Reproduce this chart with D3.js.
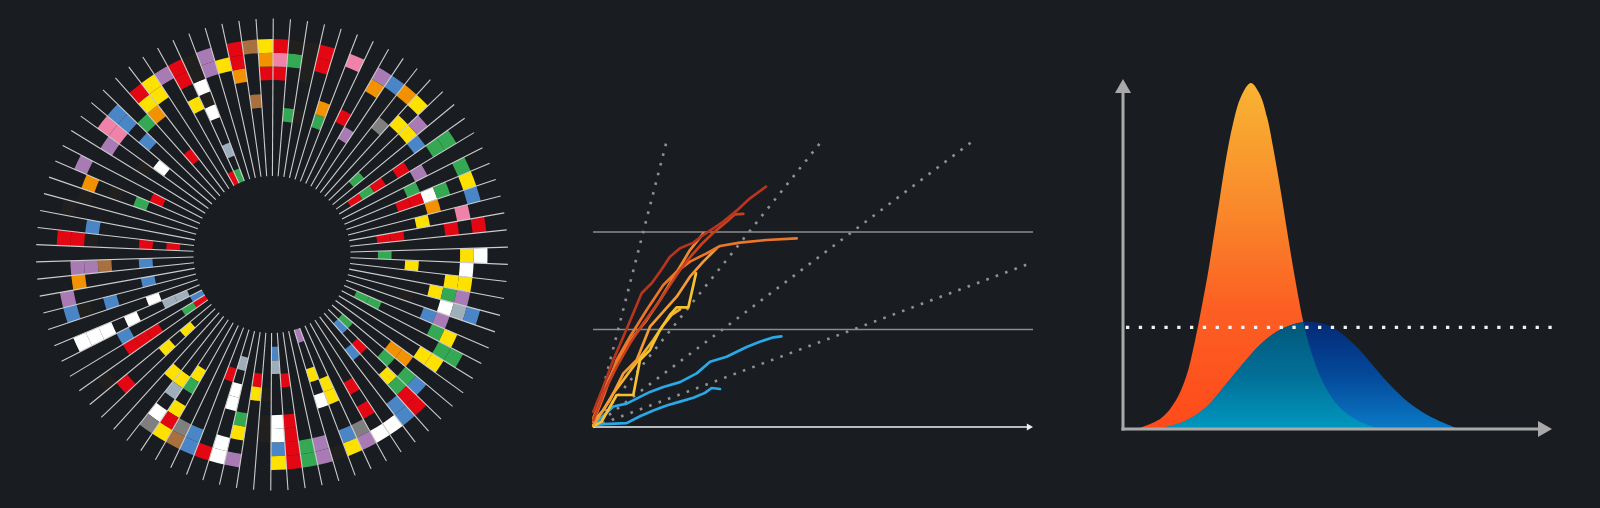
<!DOCTYPE html>
<html><head><meta charset="utf-8">
<script src="https://cdn.jsdelivr.net/npm/d3@7"></script>
<style>html,body{margin:0;padding:0;background:#191c21;}svg{display:block}</style>
</head><body>
<svg id="c" width="1600" height="508"></svg>
<script>
// ---------- RADIAL CHART DATA (one string per sector, char = band 0 (inner) .. 9 (outer)) ----------
const sectors = [
".......RKR","....G...GD","....D..DDD","........RR","....GO....",".........K",".....R....","....P...OP",
".........B","......A..O",".......Y.Y","..G....YP.",".......B..",".RGR.R..GG","......P...",".....G...G",
"....RRWG.Y","......O..B",".....Y..K.","..RR...R.R","..........","..G.....YW","....Y...W.",".......YY.",
"......YGP.","....D..WSB","......BP..",".GG....GY.","........GG",".......YY.",".....OO...",".G...G.GB.",
".B.R..YGRR","...B....BB",".........W",".....R.R.W","........AP","....YY..BY","P..Y.W...D","........PP",
"........GG","...R..RRRR",".BS...WWBY","....D.DD..","...RY.....","......GY.P","..S.WW..WW","...R.....R",
"........BB","........AN","....YG.YRY",".....YS.WA",".....Y....","..........","..Y.Y...R.",".........D",
"RG..RRR...","B.....B...",".SS..W.WWW","...W......","......B.DB","...B.....P","........O.","...B..NPP.",
"..........",".R.R...DRR",".......B..",".........D","........D.","....G.D.O.","...R.....P","..........",
".....D..P.","....W...KK","......B.BB",".......G..","...R...OYR","........YY",".........P","R.....Y.RR",
"G.S..WDWDD","........PP","........Y.",".......ORR",".....N...N",".......ROY"
];
const bandCount = 10;
const palette = {R:"#e30613",Y:"#ffe100",O:"#f39200",G:"#34a853",B:"#4a86c6",P:"#a97bb5",
  K:"#ee82a8",N:"#a8703f",W:"#ffffff",A:"#7f7f7f",S:"#9eafbb",D:"#21201e"};

// ---------- LINE CHART DATA (days, log10 units) ----------
const gridValues = [1, 2];
const refLineEnds = [[9.6,2.95],[29.8,2.95],[49.5,2.95],[57,1.69]];
const seriesColors = ["#29a9e6","#29a9e6","#f4b52c","#f6c232","#f59b35","#f08a30","#ee7628","#c8401f","#b5351f"];
const seriesB1 = [[0.04,0.02],[2.63,0.21],[4.36,0.24],[7.38,0.36],[9.11,0.41],[11.27,0.46],[13.43,0.55],[15.16,0.67],[17.31,0.72],[19.9,0.82],[21.6,0.875],[23.4,0.92],[24.4,0.93]];
const seriesB2 = [[0.04,0.02],[1.34,0.03],[4.36,0.04],[6.09,0.11],[7.81,0.17],[9.54,0.22],[11.27,0.26],[13.0,0.30],[14.5,0.35],[15.37,0.40],[16.45,0.39]];
const seriesY2 = [[0.04,0.055],[1.34,0.174],[2.63,0.345],[3.93,0.482],[5.22,0.619],[6.52,0.756],[7.81,0.892],[9.11,1.046],[10.19,1.149],[11.27,1.207]];
const seriesY1 = [[0.04,0.01],[1.12,0.055],[3.07,0.328],[5.22,0.328],[6.09,0.687],[7.38,0.79],[8.68,0.995],[9.97,1.149],[10.84,1.227],[12.35,1.227],[13.34,1.576]];
const seriesO3 = [[0.04,0.02],[2.2,0.277],[3.93,0.55],[5.66,0.687],[7.38,1.029],[9.11,1.183],[10.84,1.337],[12.56,1.542],[14.29,1.696],[16.02,1.833]];
const seriesO2 = [[0.04,0.089],[1.77,0.448],[3.5,0.721],[5.22,0.926],[6.95,1.097],[8.68,1.303],[9.97,1.474],[11.27,1.644],[12.56,1.815],[14.29,1.986]];
const seriesO1 = [[0.04,0.055],[1.34,0.311],[3.07,0.687],[4.79,0.926],[6.95,1.2],[9.11,1.456],[10.84,1.593],[12.56,1.696],[14.72,1.781],[16.45,1.856],[19.04,1.891],[22.5,1.918],[26.38,1.935]];
const seriesR2 = [[0.04,0.072],[1.55,0.379],[3.07,0.619],[4.79,0.858],[6.52,1.063],[8.25,1.251],[9.97,1.456],[11.27,1.61],[12.56,1.74],[14.08,1.877],[15.59,1.993],[17.31,2.106],[18.39,2.181],[19.47,2.185]];
const seriesR1 = [[0.04,0.157],[1.34,0.414],[2.63,0.687],[3.93,0.926],[5.22,1.166],[6.3,1.371],[7.6,1.474],[8.68,1.593],[9.97,1.747],[11.27,1.833],[13.0,1.891],[14.29,1.969],[15.59,2.038],[16.88,2.106],[18.61,2.219],[20.34,2.345],[22.41,2.465]];

// ---------- DISTRIBUTION CHART DATA ----------
const orangeCurve = [[3.19,0],[8.8,3],[12.2,8],[14.7,15],[16.7,25],[18.3,35],[19.8,45],[21.2,56],[22.6,67],[24.0,78],[25.6,88],[27.5,96],[29.76,100],
  [31.8,97],[33.6,90],[35.2,80],[36.6,70],[37.9,60],[39.2,50],[40.6,40],[42.2,30],[44.2,21],[46.8,13],[50.3,6.5],[54.8,2.4],[59.9,0]];
const blueCurve = [[7.85,0],[14.06,2.1],[19.5,6.45],[24.17,13.2],[28.05,19],[31.9,24.3],[35.8,28.1],[39.7,30.3],[43.2,31],[47.5,30.1],[51.4,27.2],[55.2,22.8],[59.1,17.1],[63.0,11.8],[66.9,7.4],[71.6,3.6],[78.2,0]];
const thresholdValue = 29.4;

const svg = d3.select("#c");
svg.append("rect").attr("width",1600).attr("height",508).attr("fill","#191c21");
const defs = svg.append("defs");

// ===== Radial =====
const nSec = sectors.length;
const a0 = 0.3*Math.PI/180;
const angle = d3.scaleLinear().domain([0,nSec]).range([a0, a0+2*Math.PI]);
const radius = d3.scaleLinear().domain([0,bandCount]).range([78.5,215.5]);
const spokeOuter = 236;
const rg = svg.append("g").attr("transform","translate(272,254.5)");
const cells = [];
sectors.forEach((str,s)=>{ for(let b=0;b<str.length;b++){ const ch=str[b]; if(ch!=='.') cells.push({s,b,c:ch}); }});
const arc = d3.arc();
rg.selectAll("path.cell").data(cells).join("path").attr("class","cell")
  .attr("d", d=>arc({innerRadius:radius(d.b), outerRadius:radius(d.b+1), startAngle:angle(d.s), endAngle:angle(d.s+1)}))
  .attr("fill", d=>palette[d.c]);
rg.selectAll("line.spoke").data(d3.range(nSec)).join("line").attr("class","spoke")
  .attr("x1", k=>radius(0)*Math.sin(angle(k))).attr("y1", k=>-radius(0)*Math.cos(angle(k)))
  .attr("x2", k=>spokeOuter*Math.sin(angle(k))).attr("y2", k=>-spokeOuter*Math.cos(angle(k)))
  .attr("stroke","#cdcdcd").attr("stroke-width",1.1);

// ===== Line chart =====
const xDay = d3.scaleLinear().domain([0,57]).range([593,1033]);
const yLog = d3.scaleLinear().domain([0,3]).range([427,134.5]);
const mg = svg.append("g");
mg.selectAll("line.grid").data(gridValues).join("line").attr("class","grid")
  .attr("x1",xDay(0)).attr("x2",xDay(57)).attr("y1",d=>yLog(d)).attr("y2",d=>yLog(d))
  .attr("stroke","#8c8c8c").attr("stroke-width",1.4);
mg.selectAll("line.ref").data(refLineEnds).join("line").attr("class","ref")
  .attr("x1",xDay(0)).attr("y1",yLog(0)).attr("x2",d=>xDay(d[0])).attr("y2",d=>yLog(d[1]))
  .attr("stroke","#909090").attr("stroke-width",2.6).attr("stroke-dasharray","2.6 7.4");
mg.append("line").attr("x1",xDay(0)).attr("x2",xDay(56.5)).attr("y1",yLog(0)).attr("y2",yLog(0))
  .attr("stroke","#f0f0f0").attr("stroke-width",1.6);
mg.append("path").attr("d",`M${xDay(56.2)},${yLog(0)-3.5}L${xDay(57)},${yLog(0)}L${xDay(56.2)},${yLog(0)+3.5}Z`).attr("fill","#f0f0f0");
const allSeries = [seriesB2, seriesB1, seriesY2, seriesY1, seriesO3, seriesO2, seriesO1, seriesR2, seriesR1];
const line = d3.line().x(d=>xDay(d[0])).y(d=>yLog(d[1]));
mg.selectAll("path.series").data(allSeries).join("path").attr("class","series")
  .attr("d",line).attr("fill","none").attr("stroke",(d,i)=>seriesColors[i])
  .attr("stroke-width",2.7).attr("stroke-linejoin","round").attr("stroke-linecap","round");

// ===== Distribution chart =====
const xR = d3.scaleLinear().domain([0,100]).range([1123,1552]);
const yR = d3.scaleLinear().domain([0,100]).range([429,83]);
function vGrad(id, y1, y2, stops){
  const g = defs.append("linearGradient").attr("id",id).attr("gradientUnits","userSpaceOnUse")
    .attr("x1",0).attr("x2",0).attr("y1",y1).attr("y2",y2);
  stops.forEach(s=>g.append("stop").attr("offset",s[0]).attr("stop-color",s[1]));
}
vGrad("gOr", yR(100), yR(0), [[0,"#f8b433"],[0.35,"#f98a2b"],[0.65,"#fc5f23"],[1,"#ff4a1a"]]);
vGrad("gBl", yR(31), yR(0), [[0,"#032a76"],[0.5,"#04499a"],[1,"#0b7ac6"]]);
vGrad("gTe", yR(31), yR(0), [[0,"#03587b"],[0.5,"#026f97"],[1,"#0098bf"]]);
const area = d3.area().x(d=>xR(d[0])).y0(yR(0)).y1(d=>yR(d[1])).curve(d3.curveCatmullRom.alpha(0.5));
defs.append("clipPath").attr("id","clipOr").append("path").attr("d",area(orangeCurve));
const dg = svg.append("g");
dg.append("path").attr("d",area(orangeCurve)).attr("fill","url(#gOr)");
dg.append("path").attr("d",area(blueCurve)).attr("fill","url(#gBl)");
dg.append("path").attr("d",area(blueCurve)).attr("fill","url(#gTe)").attr("clip-path","url(#clipOr)");
// axes
dg.append("line").attr("x1",xR(0)).attr("x2",xR(0)).attr("y1",yR(0)+1.5).attr("y2",yR(100)+4)
  .attr("stroke","#a9a9a9").attr("stroke-width",3);
dg.append("path").attr("d",`M${xR(0)-8},${yR(100)+10}L${xR(0)},${yR(100)-4}L${xR(0)+8},${yR(100)+10}Z`).attr("fill","#a9a9a9");
dg.append("line").attr("x1",xR(0)-1.5).attr("x2",xR(100)-12).attr("y1",yR(0)).attr("y2",yR(0))
  .attr("stroke","#a9a9a9").attr("stroke-width",3);
dg.append("path").attr("d",`M${xR(100)-14},${yR(0)-8}L${xR(100)},${yR(0)}L${xR(100)-14},${yR(0)+8}Z`).attr("fill","#a9a9a9");
// threshold
dg.append("line").attr("x1",xR(0)+3).attr("x2",xR(100)).attr("y1",yR(thresholdValue)).attr("y2",yR(thresholdValue))
  .attr("stroke","#f2f2f2").attr("stroke-width",3.3).attr("stroke-dasharray","3.3 9.5");
</script></body></html>
